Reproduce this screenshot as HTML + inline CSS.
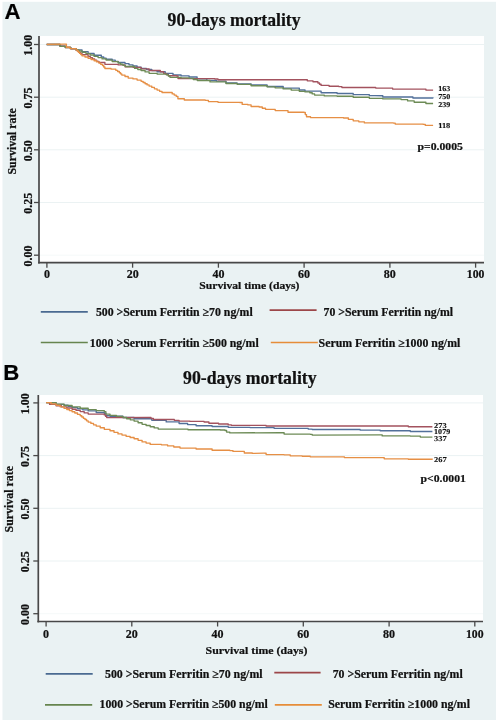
<!DOCTYPE html>
<html><head><meta charset="utf-8"><title>90-days mortality</title>
<style>html,body{margin:0;padding:0;background:#fff;width:498px;height:722px;overflow:hidden}svg{display:block;will-change:transform;opacity:0.999}text{stroke:#111;stroke-width:0.22px}</style>
</head><body>
<svg width="498" height="722" viewBox="0 0 498 722">
<rect x="0" y="0" width="498" height="722" fill="#ffffff"/>
<rect x="2.5" y="1.8" width="493.5" height="718.2" fill="#eaf2f3"/>
<rect x="39.0" y="36.0" width="445.0" height="226.7" fill="#ffffff"/>
<line x1="39.8" y1="44.5" x2="484.0" y2="44.5" stroke="#ebf2f3" stroke-width="1"/>
<line x1="39.8" y1="97.2" x2="484.0" y2="97.2" stroke="#ebf2f3" stroke-width="1"/>
<line x1="39.8" y1="149.8" x2="484.0" y2="149.8" stroke="#ebf2f3" stroke-width="1"/>
<line x1="39.8" y1="202.5" x2="484.0" y2="202.5" stroke="#ebf2f3" stroke-width="1"/>
<line x1="39.8" y1="255.2" x2="484.0" y2="255.2" stroke="#f5f9f9" stroke-width="1"/>
<polyline points="46.7,44.5 60.0,44.5 60.0,46.1 65.3,46.1 65.3,47.3 70.7,47.3 70.7,48.6 76.0,48.6 76.0,49.8 82.0,49.8 82.0,51.6 88.1,51.6 88.1,53.4 94.1,53.4 94.1,55.2 101.3,55.2 101.3,57.0 103.7,57.0 103.7,58.1 106.1,58.1 106.1,59.2 112.2,59.2 112.2,60.1 115.2,60.1 115.2,61.3 118.2,61.3 118.2,62.5 125.0,62.5 125.0,63.6 129.0,63.6 129.0,64.8 133.0,64.8 133.0,66.0 137.1,66.0 137.1,67.2 141.1,67.2 141.1,68.4 146.4,68.4 146.4,69.5 151.8,69.5 151.8,70.6 157.1,70.6 157.1,71.7 165.2,71.7 165.2,73.3 173.0,73.3 173.0,75.0 181.1,75.0 181.1,75.9 189.1,75.9 189.1,77.0 197.1,77.0 197.1,78.7 206.8,78.7 206.8,80.3 216.4,80.3 216.4,81.1 226.0,81.1 226.0,83.0 237.0,83.0 237.0,83.8 251.1,83.8 251.1,84.9 267.1,84.9 267.1,86.5 283.2,86.5 283.2,88.1 299.3,88.1 299.3,90.0 305.0,90.0 305.0,91.1 321.1,91.1 321.1,92.7 337.1,92.7 337.1,93.5 353.2,93.5 353.2,94.6 369.3,94.6 369.3,95.6 375.0,95.7 382.8,95.7 382.8,97.0 408.9,97.0 412.9,97.0 412.9,98.0 433.1,98.0 433.1,98.3" fill="none" stroke="#52709a" stroke-width="1.35" stroke-linejoin="round"/>
<polyline points="46.7,44.5 60.0,44.5 60.0,46.2 65.3,46.2 65.3,47.5 70.7,47.5 70.7,48.7 76.0,48.7 76.0,50.0 77.5,50.0 77.5,51.1 79.0,51.1 79.0,52.3 80.5,52.3 80.5,53.5 82.0,53.5 82.0,54.6 88.1,54.6 88.1,56.4 90.3,56.4 90.3,57.6 92.4,57.6 92.4,58.8 94.6,58.8 94.6,60.1 96.7,60.1 96.7,61.3 98.9,61.3 98.9,62.5 104.9,62.5 104.9,64.3 118.2,64.3 118.2,64.9 125.0,64.9 125.0,66.8 133.0,66.8 133.0,67.3 141.1,67.3 141.1,68.9 149.1,68.9 149.1,70.5 160.3,70.5 160.3,71.7 163.6,71.7 163.6,73.3 166.0,73.3 166.0,74.5 168.4,74.5 168.4,75.7 176.4,75.7 176.4,76.0 178.0,76.0 178.0,78.6 214.8,78.6 214.8,79.0 218.0,79.0 218.0,79.7 304.1,79.7 307.3,79.7 307.3,80.8 313.0,80.8 313.0,81.7 317.9,81.7 317.9,83.0 319.5,83.0 319.5,84.2 321.1,84.2 321.1,85.4 329.1,85.4 329.1,86.2 338.7,86.2 338.7,86.6 341.9,86.6 341.9,87.5 372.5,87.5 375.7,87.5 375.7,88.0 390.7,88.1 392.6,88.1 392.6,89.1 423.3,89.1 425.9,89.1 425.9,90.1 433.1,90.1" fill="none" stroke="#a3525e" stroke-width="1.35" stroke-linejoin="round"/>
<polyline points="46.7,44.5 60.0,44.5 60.0,46.3 65.3,46.3 65.3,47.5 70.7,47.5 70.7,48.6 76.0,48.6 76.0,49.8 79.0,49.8 79.0,51.0 82.0,51.0 82.0,52.2 86.0,52.2 86.0,53.6 90.1,53.6 90.1,55.0 94.1,55.0 94.1,56.4 98.1,56.4 98.1,57.6 102.1,57.6 102.1,58.9 106.1,58.9 106.1,60.1 112.2,60.1 112.2,61.6 118.2,61.6 118.2,63.1 120.6,63.1 120.6,64.2 123.0,64.2 123.0,65.4 125.4,65.4 125.4,66.5 134.6,66.5 134.6,68.4 137.8,68.4 137.8,69.5 141.1,69.5 141.1,70.5 145.1,70.5 145.1,71.9 149.1,71.9 149.1,73.3 157.1,73.3 157.1,74.1 166.8,74.1 166.8,74.9 168.4,74.9 168.4,76.1 170.0,76.1 170.0,77.3 181.1,77.3 181.1,77.9 189.3,77.9 189.3,78.4 193.3,78.4 193.3,79.5 197.3,79.5 197.3,80.5 210.0,80.5 210.0,81.9 226.0,81.9 226.0,83.5 237.3,83.5 237.3,84.3 251.1,84.3 251.1,85.7 267.1,85.7 267.1,86.8 275.1,86.8 275.1,87.8 283.2,87.8 283.2,88.9 291.2,88.9 291.2,90.1 299.3,90.1 299.3,91.3 305.0,91.3 305.0,91.9 309.8,91.9 309.8,92.7 312.2,92.7 312.2,93.9 314.6,93.9 314.6,95.1 324.3,95.1 324.3,95.9 337.1,95.9 337.1,96.2 353.2,96.2 353.2,97.2 369.3,97.2 369.3,98.3 382.8,98.3 382.8,98.9 401.1,98.9 401.1,99.6 407.6,99.6 407.6,100.9 414.2,100.9 414.2,102.2 425.9,102.2 425.9,103.5 433.1,103.5" fill="none" stroke="#6d8b56" stroke-width="1.35" stroke-linejoin="round"/>
<polyline points="46.7,44.4 64.8,44.2 66.4,44.2 66.4,47.2 70.0,47.2 70.0,48.6 76.0,48.6 76.0,49.8 77.2,49.8 77.2,51.0 78.4,51.0 78.4,52.2 79.6,52.2 79.6,53.4 80.8,53.4 80.8,54.6 82.0,54.6 82.0,55.8 85.0,55.8 85.0,57.0 88.1,57.0 88.1,58.3 91.1,58.3 91.1,59.5 94.1,59.5 94.1,60.7 96.5,60.7 96.5,61.9 98.9,61.9 98.9,63.1 100.7,63.1 100.7,64.3 102.5,64.3 102.5,65.5 103.7,65.5 103.7,67.0 104.9,67.0 104.9,68.5 111.0,68.5 111.0,69.1 115.8,69.1 115.8,70.3 117.6,70.3 117.6,71.5 119.4,71.5 119.4,72.7 120.6,72.7 120.6,73.9 121.8,73.9 121.8,75.1 125.0,75.1 125.0,76.5 128.2,76.5 128.2,78.1 133.0,78.1 133.0,78.9 137.1,78.9 137.1,80.1 141.1,80.1 141.1,81.3 143.1,81.3 143.1,82.5 145.1,82.5 145.1,83.7 147.1,83.7 147.1,84.9 149.1,84.9 149.1,86.1 151.8,86.1 151.8,87.4 154.4,87.4 154.4,88.8 157.1,88.8 157.1,90.1 159.6,90.1 159.6,91.3 162.0,91.3 162.0,92.5 172.2,92.5 172.2,93.9 174.2,93.9 174.2,95.1 176.2,95.1 176.2,96.3 177.9,96.3 177.9,98.7 184.3,98.7 184.3,100.0 205.2,100.0 205.2,100.3 208.4,100.3 208.4,101.6 218.0,101.6 218.0,102.3 239.8,102.3 239.8,102.5 242.2,102.5 242.2,104.4 247.9,104.4 247.9,104.9 251.1,104.9 251.1,106.5 259.1,106.5 259.1,107.0 262.3,107.0 262.3,108.2 265.5,108.2 265.5,109.3 275.2,109.3 275.2,110.6 288.0,110.6 288.0,112.2 304.1,112.2 304.1,112.5 305.3,112.5 305.3,114.6 306.5,114.6 306.5,116.7 310.5,116.7 310.5,117.6 343.6,117.6 343.6,118.0 348.4,118.0 348.4,119.4 353.2,119.4 353.2,120.8 358.8,120.8 358.8,121.8 364.4,121.8 364.4,122.9 393.3,122.9 393.3,123.1 395.2,123.1 395.2,124.1 423.3,124.1 423.3,124.4 425.3,124.4 425.3,125.4 433.1,125.4" fill="none" stroke="#e68f45" stroke-width="1.35" stroke-linejoin="round"/>
<line x1="39.0" y1="36.0" x2="39.0" y2="263.6" stroke="#484848" stroke-width="1.70"/>
<line x1="38.1" y1="262.7" x2="484.0" y2="262.7" stroke="#484848" stroke-width="1.70"/>
<line x1="34.0" y1="255.2" x2="39.0" y2="255.2" stroke="#484848" stroke-width="1.3"/>
<text transform="translate(32.00,266.10) rotate(-90)" x="-0.40" y="0" textLength="21.00" lengthAdjust="spacingAndGlyphs" font-family='"Liberation Serif", serif' font-weight="bold" font-size="12.00" fill="#111">0.00</text>
<line x1="34.0" y1="202.5" x2="39.0" y2="202.5" stroke="#484848" stroke-width="1.3"/>
<text transform="translate(32.00,213.42) rotate(-90)" x="-0.40" y="0" textLength="21.00" lengthAdjust="spacingAndGlyphs" font-family='"Liberation Serif", serif' font-weight="bold" font-size="12.00" fill="#111">0.25</text>
<line x1="34.0" y1="149.8" x2="39.0" y2="149.8" stroke="#484848" stroke-width="1.3"/>
<text transform="translate(32.00,160.75) rotate(-90)" x="-0.40" y="0" textLength="21.00" lengthAdjust="spacingAndGlyphs" font-family='"Liberation Serif", serif' font-weight="bold" font-size="12.00" fill="#111">0.50</text>
<line x1="34.0" y1="97.2" x2="39.0" y2="97.2" stroke="#484848" stroke-width="1.3"/>
<text transform="translate(32.00,108.08) rotate(-90)" x="-0.40" y="0" textLength="21.00" lengthAdjust="spacingAndGlyphs" font-family='"Liberation Serif", serif' font-weight="bold" font-size="12.00" fill="#111">0.75</text>
<line x1="34.0" y1="44.5" x2="39.0" y2="44.5" stroke="#484848" stroke-width="1.3"/>
<text transform="translate(32.00,55.40) rotate(-90)" x="-0.40" y="0" textLength="21.00" lengthAdjust="spacingAndGlyphs" font-family='"Liberation Serif", serif' font-weight="bold" font-size="12.00" fill="#111">1.00</text>
<line x1="46.9" y1="262.7" x2="46.9" y2="267.7" stroke="#484848" stroke-width="1.3"/>
<text x="43.90" y="277.90" textLength="6.00" lengthAdjust="spacingAndGlyphs" font-family='"Liberation Serif", serif' font-weight="bold" font-size="12.00" fill="#111">0</text>
<line x1="132.6" y1="262.7" x2="132.6" y2="267.7" stroke="#484848" stroke-width="1.3"/>
<text x="126.64" y="277.90" textLength="12.00" lengthAdjust="spacingAndGlyphs" font-family='"Liberation Serif", serif' font-weight="bold" font-size="12.00" fill="#111">20</text>
<line x1="218.4" y1="262.7" x2="218.4" y2="267.7" stroke="#484848" stroke-width="1.3"/>
<text x="212.38" y="277.90" textLength="12.00" lengthAdjust="spacingAndGlyphs" font-family='"Liberation Serif", serif' font-weight="bold" font-size="12.00" fill="#111">40</text>
<line x1="304.1" y1="262.7" x2="304.1" y2="267.7" stroke="#484848" stroke-width="1.3"/>
<text x="298.12" y="277.90" textLength="12.00" lengthAdjust="spacingAndGlyphs" font-family='"Liberation Serif", serif' font-weight="bold" font-size="12.00" fill="#111">60</text>
<line x1="389.9" y1="262.7" x2="389.9" y2="267.7" stroke="#484848" stroke-width="1.3"/>
<text x="383.86" y="277.90" textLength="12.00" lengthAdjust="spacingAndGlyphs" font-family='"Liberation Serif", serif' font-weight="bold" font-size="12.00" fill="#111">80</text>
<line x1="475.6" y1="262.7" x2="475.6" y2="267.7" stroke="#484848" stroke-width="1.3"/>
<text x="466.80" y="277.90" textLength="17.60" lengthAdjust="spacingAndGlyphs" font-family='"Liberation Serif", serif' font-weight="bold" font-size="12.00" fill="#111">100</text>
<text x="4.4" y="18.9" font-family='"Liberation Sans", sans-serif' font-weight="bold" font-size="22.2" fill="#000">A</text>
<text x="167.60" y="25.80" textLength="133.00" lengthAdjust="spacingAndGlyphs" font-family='"Liberation Serif", serif' font-weight="bold" font-size="17.80" fill="#111">90-days mortality</text>
<text transform="translate(16.00,174.10) rotate(-90)" x="-0.40" y="0" textLength="66.20" lengthAdjust="spacingAndGlyphs" font-family='"Liberation Serif", serif' font-weight="bold" font-size="12.00" fill="#111">Survival rate</text>
<text x="199.30" y="289.30" textLength="100.20" lengthAdjust="spacingAndGlyphs" font-family='"Liberation Serif", serif' font-weight="bold" font-size="11.20" fill="#111">Survival time (days)</text>
<text x="95.90" y="315.80" textLength="156.80" lengthAdjust="spacingAndGlyphs" font-family='"Liberation Serif", serif' font-weight="bold" font-size="11.60" fill="#111">500 &gt;Serum Ferritin &#8805;70 ng/ml</text>
<text x="89.80" y="346.50" textLength="168.90" lengthAdjust="spacingAndGlyphs" font-family='"Liberation Serif", serif' font-weight="bold" font-size="11.60" fill="#111">1000 &gt;Serum Ferritin &#8805;500 ng/ml</text>
<text x="323.50" y="315.80" textLength="129.60" lengthAdjust="spacingAndGlyphs" font-family='"Liberation Serif", serif' font-weight="bold" font-size="11.60" fill="#111">70 &gt;Serum Ferritin ng/ml</text>
<text x="318.60" y="346.50" textLength="141.70" lengthAdjust="spacingAndGlyphs" font-family='"Liberation Serif", serif' font-weight="bold" font-size="11.60" fill="#111">Serum Ferritin &#8805;1000 ng/ml</text>
<text x="438.20" y="91.30" textLength="12.10" lengthAdjust="spacingAndGlyphs" font-family='"Liberation Serif", serif' font-weight="bold" font-size="7.50" fill="#111" text-rendering="geometricPrecision" style="stroke-width:0.12px">163</text>
<text x="438.20" y="99.30" textLength="12.10" lengthAdjust="spacingAndGlyphs" font-family='"Liberation Serif", serif' font-weight="bold" font-size="7.50" fill="#111" text-rendering="geometricPrecision" style="stroke-width:0.12px">750</text>
<text x="438.20" y="107.10" textLength="12.10" lengthAdjust="spacingAndGlyphs" font-family='"Liberation Serif", serif' font-weight="bold" font-size="7.50" fill="#111" text-rendering="geometricPrecision" style="stroke-width:0.12px">239</text>
<text x="438.20" y="127.70" textLength="12.10" lengthAdjust="spacingAndGlyphs" font-family='"Liberation Serif", serif' font-weight="bold" font-size="7.50" fill="#111" text-rendering="geometricPrecision" style="stroke-width:0.12px">118</text>
<text x="417.60" y="149.50" textLength="45.30" lengthAdjust="spacingAndGlyphs" font-family='"Liberation Serif", serif' font-weight="bold" font-size="11.40" fill="#111">p=0.0005</text>
<line x1="40.8" y1="311.8" x2="87.8" y2="311.8" stroke="#4a6a91" stroke-width="1.7"/>
<line x1="269.6" y1="310.2" x2="316.6" y2="310.2" stroke="#9c4649" stroke-width="1.7"/>
<line x1="40.8" y1="342.5" x2="87.8" y2="342.5" stroke="#66854e" stroke-width="1.7"/>
<line x1="270.8" y1="342.5" x2="317.8" y2="342.5" stroke="#e68d38" stroke-width="1.7"/>
<rect x="38.3" y="395.0" width="444.7" height="226.5" fill="#ffffff"/>
<line x1="39.0" y1="402.9" x2="483.0" y2="402.9" stroke="#ebf2f3" stroke-width="1"/>
<line x1="39.0" y1="455.6" x2="483.0" y2="455.6" stroke="#ebf2f3" stroke-width="1"/>
<line x1="39.0" y1="508.3" x2="483.0" y2="508.3" stroke="#ebf2f3" stroke-width="1"/>
<line x1="39.0" y1="561.0" x2="483.0" y2="561.0" stroke="#ebf2f3" stroke-width="1"/>
<line x1="39.0" y1="613.7" x2="483.0" y2="613.7" stroke="#f5f9f9" stroke-width="1"/>
<polyline points="46.2,402.6 56.1,402.6 56.1,404.4 64.1,404.4 64.1,405.2 68.1,405.2 68.1,406.4 72.1,406.4 72.1,407.6 77.5,407.6 77.5,408.7 82.8,408.7 82.8,409.8 88.2,409.8 88.2,410.9 96.2,410.9 96.2,412.5 104.3,412.5 104.3,413.3 105.9,413.3 105.9,415.7 110.0,415.7 110.0,416.2 122.9,416.2 122.9,417.5 134.1,417.5 134.1,418.7 151.8,418.7 151.8,420.3 166.2,420.3 166.2,421.9 179.1,421.9 179.1,423.5 187.6,423.5 187.6,424.6 196.1,424.6 196.1,425.7 212.1,425.7 212.1,426.5 228.2,426.5 228.2,427.3 250.0,427.3 250.0,427.6 274.1,427.6 274.1,428.3 308.2,428.3 308.2,429.1 312.2,429.1 312.2,429.5 360.1,429.5 360.1,430.1 380.2,430.1 380.2,430.7 410.3,430.7 410.3,431.5 432.4,431.5" fill="none" stroke="#52709a" stroke-width="1.35" stroke-linejoin="round"/>
<polyline points="46.2,402.6 49.6,402.6 49.6,404.4 56.1,404.4 56.1,405.7 61.4,405.7 61.4,406.9 66.8,406.9 66.8,408.0 72.1,408.0 72.1,409.2 76.1,409.2 76.1,410.4 80.2,410.4 80.2,411.6 84.2,411.6 84.2,412.9 88.2,412.9 88.2,414.1 104.3,414.1 104.3,414.9 105.5,414.9 105.5,416.2 106.7,416.2 106.7,417.6 148.6,417.5 151.0,417.5 151.0,418.5 153.4,418.5 153.4,419.5 174.3,419.5 174.3,420.3 179.1,420.3 179.1,421.1 190.0,421.1 190.0,421.4 204.1,421.4 204.1,422.0 208.9,422.0 208.9,423.2 218.6,423.2 218.6,424.0 228.2,424.0 228.2,424.9 231.4,424.9 231.4,425.4 264.1,425.4 266.1,425.4 266.1,426.0 404.3,426.0 408.3,426.0 408.3,426.7 432.4,426.7" fill="none" stroke="#a3525e" stroke-width="1.35" stroke-linejoin="round"/>
<polyline points="46.2,402.6 56.1,402.6 56.1,404.1 64.1,404.1 64.1,405.5 72.1,405.5 72.1,406.8 80.2,406.8 80.2,408.2 88.2,408.2 88.2,409.6 96.2,409.6 96.2,410.6 104.3,410.6 104.3,411.7 105.9,411.7 105.9,414.1 110.0,414.1 110.0,415.4 116.5,415.4 116.5,416.4 122.9,416.4 122.9,417.5 126.6,417.5 126.6,418.7 130.4,418.7 130.4,419.9 134.1,419.9 134.1,421.1 138.1,421.1 138.1,422.7 142.1,422.7 142.1,424.3 146.1,424.3 146.1,425.5 150.2,425.5 150.2,426.7 154.2,426.7 154.2,427.9 158.2,427.9 158.2,429.1 182.3,429.1 188.0,429.1 188.0,429.7 220.2,429.7 220.2,430.0 225.0,430.0 225.0,430.5 226.6,430.5 226.6,432.1 229.8,432.1 229.8,432.9 280.1,432.7 284.1,432.7 284.1,434.1 310.2,434.1 310.2,434.3 312.2,434.3 312.2,435.1 380.2,434.9 382.2,434.9 382.2,435.9 410.3,435.9 410.3,436.1 420.3,436.1 420.3,437.1 432.4,437.1" fill="none" stroke="#6d8b56" stroke-width="1.35" stroke-linejoin="round"/>
<polyline points="46.2,402.6 51.2,402.6 51.2,403.9 56.1,403.9 56.1,405.2 60.1,405.2 60.1,406.8 64.1,406.8 64.1,408.4 66.8,408.4 66.8,409.5 69.4,409.5 69.4,410.6 72.1,410.6 72.1,411.7 74.8,411.7 74.8,413.0 77.5,413.0 77.5,414.4 80.2,414.4 80.2,415.7 81.8,415.7 81.8,417.0 83.4,417.0 83.4,418.3 85.0,418.3 85.0,419.5 86.6,419.5 86.6,420.8 88.2,420.8 88.2,422.1 90.9,422.1 90.9,423.4 93.5,423.4 93.5,424.8 96.2,424.8 96.2,426.1 100.2,426.1 100.2,427.7 104.3,427.7 104.3,429.3 110.0,429.3 110.0,430.7 114.0,430.7 114.0,432.3 118.0,432.3 118.0,433.9 122.0,433.9 122.0,435.1 126.1,435.1 126.1,436.3 130.1,436.3 130.1,437.5 134.1,437.5 134.1,438.7 138.1,438.7 138.1,440.3 142.1,440.3 142.1,441.9 146.1,441.9 146.1,443.1 150.2,443.1 150.2,444.4 161.4,444.4 161.4,444.8 167.6,444.8 167.6,445.9 173.8,445.9 173.8,447.0 180.0,447.0 180.0,448.1 196.1,448.1 196.1,449.0 212.1,449.0 212.1,450.2 229.8,450.2 229.8,450.6 233.0,450.6 233.0,451.4 244.3,451.4 244.3,453.0 252.3,453.0 252.3,453.4 264.1,453.2 266.1,453.2 266.1,454.6 284.1,454.6 284.1,454.8 290.2,454.8 290.2,455.8 302.2,455.8 302.2,456.2 310.2,456.2 310.2,456.8 334.3,456.8 344.4,456.8 344.4,457.6 380.2,457.6 384.2,457.6 384.2,458.8 408.3,458.8 408.3,459.2 432.4,459.2 432.4,459.6" fill="none" stroke="#e68f45" stroke-width="1.35" stroke-linejoin="round"/>
<line x1="38.3" y1="395.0" x2="38.3" y2="622.4" stroke="#484848" stroke-width="1.70"/>
<line x1="37.4" y1="621.5" x2="483.0" y2="621.5" stroke="#484848" stroke-width="1.70"/>
<line x1="33.3" y1="613.7" x2="38.3" y2="613.7" stroke="#484848" stroke-width="1.3"/>
<text transform="translate(28.80,624.60) rotate(-90)" x="-0.40" y="0" textLength="21.00" lengthAdjust="spacingAndGlyphs" font-family='"Liberation Serif", serif' font-weight="bold" font-size="12.00" fill="#111">0.00</text>
<line x1="33.3" y1="561.0" x2="38.3" y2="561.0" stroke="#484848" stroke-width="1.3"/>
<text transform="translate(28.80,571.90) rotate(-90)" x="-0.40" y="0" textLength="21.00" lengthAdjust="spacingAndGlyphs" font-family='"Liberation Serif", serif' font-weight="bold" font-size="12.00" fill="#111">0.25</text>
<line x1="33.3" y1="508.3" x2="38.3" y2="508.3" stroke="#484848" stroke-width="1.3"/>
<text transform="translate(28.80,519.20) rotate(-90)" x="-0.40" y="0" textLength="21.00" lengthAdjust="spacingAndGlyphs" font-family='"Liberation Serif", serif' font-weight="bold" font-size="12.00" fill="#111">0.50</text>
<line x1="33.3" y1="455.6" x2="38.3" y2="455.6" stroke="#484848" stroke-width="1.3"/>
<text transform="translate(28.80,466.50) rotate(-90)" x="-0.40" y="0" textLength="21.00" lengthAdjust="spacingAndGlyphs" font-family='"Liberation Serif", serif' font-weight="bold" font-size="12.00" fill="#111">0.75</text>
<line x1="33.3" y1="402.9" x2="38.3" y2="402.9" stroke="#484848" stroke-width="1.3"/>
<text transform="translate(28.80,413.80) rotate(-90)" x="-0.40" y="0" textLength="21.00" lengthAdjust="spacingAndGlyphs" font-family='"Liberation Serif", serif' font-weight="bold" font-size="12.00" fill="#111">1.00</text>
<line x1="46.1" y1="621.5" x2="46.1" y2="626.5" stroke="#484848" stroke-width="1.3"/>
<text x="43.10" y="637.60" textLength="6.00" lengthAdjust="spacingAndGlyphs" font-family='"Liberation Serif", serif' font-weight="bold" font-size="12.00" fill="#111">0</text>
<line x1="131.8" y1="621.5" x2="131.8" y2="626.5" stroke="#484848" stroke-width="1.3"/>
<text x="125.84" y="637.60" textLength="12.00" lengthAdjust="spacingAndGlyphs" font-family='"Liberation Serif", serif' font-weight="bold" font-size="12.00" fill="#111">20</text>
<line x1="217.6" y1="621.5" x2="217.6" y2="626.5" stroke="#484848" stroke-width="1.3"/>
<text x="211.58" y="637.60" textLength="12.00" lengthAdjust="spacingAndGlyphs" font-family='"Liberation Serif", serif' font-weight="bold" font-size="12.00" fill="#111">40</text>
<line x1="303.3" y1="621.5" x2="303.3" y2="626.5" stroke="#484848" stroke-width="1.3"/>
<text x="297.32" y="637.60" textLength="12.00" lengthAdjust="spacingAndGlyphs" font-family='"Liberation Serif", serif' font-weight="bold" font-size="12.00" fill="#111">60</text>
<line x1="389.1" y1="621.5" x2="389.1" y2="626.5" stroke="#484848" stroke-width="1.3"/>
<text x="383.06" y="637.60" textLength="12.00" lengthAdjust="spacingAndGlyphs" font-family='"Liberation Serif", serif' font-weight="bold" font-size="12.00" fill="#111">80</text>
<line x1="474.8" y1="621.5" x2="474.8" y2="626.5" stroke="#484848" stroke-width="1.3"/>
<text x="466.00" y="637.60" textLength="17.60" lengthAdjust="spacingAndGlyphs" font-family='"Liberation Serif", serif' font-weight="bold" font-size="12.00" fill="#111">100</text>
<text x="3.2" y="380.0" font-family='"Liberation Sans", sans-serif' font-weight="bold" font-size="22.2" fill="#000">B</text>
<text x="183.10" y="384.00" textLength="133.50" lengthAdjust="spacingAndGlyphs" font-family='"Liberation Serif", serif' font-weight="bold" font-size="17.80" fill="#111">90-days mortality</text>
<text transform="translate(12.70,532.00) rotate(-90)" x="-0.40" y="0" textLength="66.30" lengthAdjust="spacingAndGlyphs" font-family='"Liberation Serif", serif' font-weight="bold" font-size="12.00" fill="#111">Survival rate</text>
<text x="205.60" y="654.30" textLength="101.80" lengthAdjust="spacingAndGlyphs" font-family='"Liberation Serif", serif' font-weight="bold" font-size="11.20" fill="#111">Survival time (days)</text>
<text x="105.00" y="677.60" textLength="157.60" lengthAdjust="spacingAndGlyphs" font-family='"Liberation Serif", serif' font-weight="bold" font-size="11.60" fill="#111">500 &gt;Serum Ferritin &#8805;70 ng/ml</text>
<text x="99.50" y="708.00" textLength="168.40" lengthAdjust="spacingAndGlyphs" font-family='"Liberation Serif", serif' font-weight="bold" font-size="11.60" fill="#111">1000 &gt;Serum Ferritin &#8805;500 ng/ml</text>
<text x="332.70" y="677.60" textLength="130.00" lengthAdjust="spacingAndGlyphs" font-family='"Liberation Serif", serif' font-weight="bold" font-size="11.60" fill="#111">70 &gt;Serum Ferritin ng/ml</text>
<text x="328.20" y="708.00" textLength="141.80" lengthAdjust="spacingAndGlyphs" font-family='"Liberation Serif", serif' font-weight="bold" font-size="11.60" fill="#111">Serum Ferritin &#8805;1000 ng/ml</text>
<text x="434.10" y="427.60" textLength="12.60" lengthAdjust="spacingAndGlyphs" font-family='"Liberation Serif", serif' font-weight="bold" font-size="7.50" fill="#111" text-rendering="geometricPrecision" style="stroke-width:0.12px">273</text>
<text x="434.10" y="433.60" textLength="16.10" lengthAdjust="spacingAndGlyphs" font-family='"Liberation Serif", serif' font-weight="bold" font-size="7.50" fill="#111" text-rendering="geometricPrecision" style="stroke-width:0.12px">1079</text>
<text x="434.10" y="440.50" textLength="12.60" lengthAdjust="spacingAndGlyphs" font-family='"Liberation Serif", serif' font-weight="bold" font-size="7.50" fill="#111" text-rendering="geometricPrecision" style="stroke-width:0.12px">337</text>
<text x="434.10" y="461.60" textLength="12.60" lengthAdjust="spacingAndGlyphs" font-family='"Liberation Serif", serif' font-weight="bold" font-size="7.50" fill="#111" text-rendering="geometricPrecision" style="stroke-width:0.12px">267</text>
<text x="420.60" y="482.30" textLength="45.30" lengthAdjust="spacingAndGlyphs" font-family='"Liberation Serif", serif' font-weight="bold" font-size="11.40" fill="#111">p&lt;0.0001</text>
<line x1="45.7" y1="673.8" x2="92.7" y2="673.8" stroke="#4a6a91" stroke-width="1.7"/>
<line x1="274.3" y1="672.6" x2="320.6" y2="672.6" stroke="#9c4649" stroke-width="1.7"/>
<line x1="45.0" y1="704.9" x2="92.2" y2="704.9" stroke="#66854e" stroke-width="1.7"/>
<line x1="274.8" y1="704.9" x2="321.8" y2="704.9" stroke="#e68d38" stroke-width="1.7"/>
</svg>
</body></html>
